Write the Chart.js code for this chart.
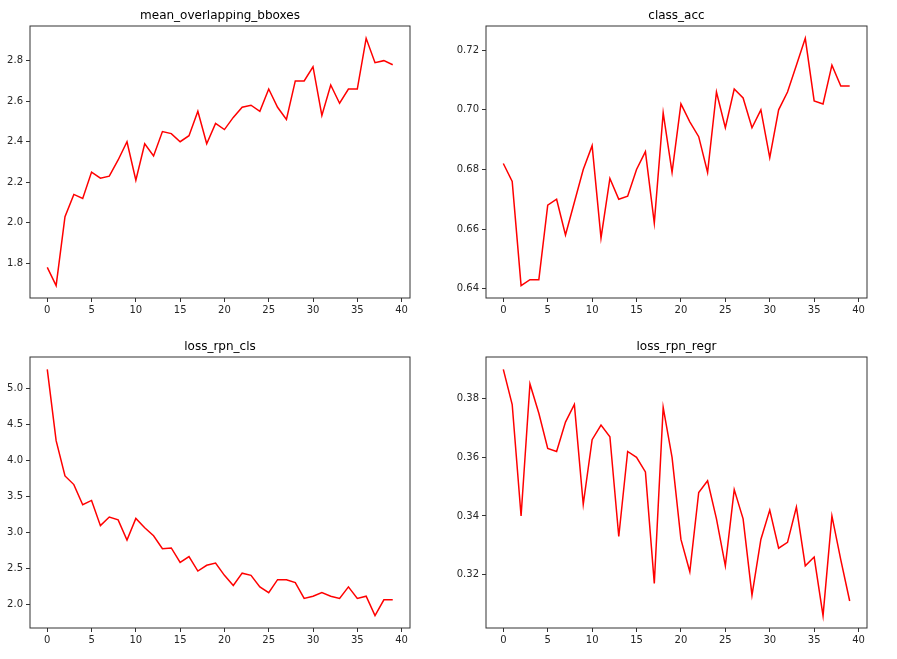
<!DOCTYPE html>
<html>
<head>
<meta charset="utf-8">
<script src="https://cdn.jsdelivr.net/npm/chart.js@4/dist/chart.umd.min.js"></script>
<style>
  body { margin: 0; background: #fff; }
  #fig { position: relative; width: 897px; height: 659px; background: #fff; }
  .panel { position: absolute; }
</style>
</head>
<body>
<div id="fig">
  <div class="panel" style="left:0px;top:10px;width:420px;height:312px"><canvas id="c1"></canvas></div>
  <div class="panel" style="left:446px;top:10px;width:431px;height:312px"><canvas id="c2"></canvas></div>
  <div class="panel" style="left:0px;top:341px;width:420px;height:311px"><canvas id="c3"></canvas></div>
  <div class="panel" style="left:446px;top:341px;width:431px;height:311px"><canvas id="c4"></canvas></div>
</div>
<script>
// epochs along the x axis
const epochs = [0,1,2,3,4,5,6,7,8,9,10,11,12,13,14,15,16,17,18,19,
                20,21,22,23,24,25,26,27,28,29,30,31,32,33,34,35,36,37,38,39];
const xTicks = [0, 5, 10, 15, 20, 25, 30, 35, 40];

// values
const meanOverlappingBboxes = [1.78,1.69,2.03,2.14,2.12,2.25,2.22,2.23,2.31,2.40,
                               2.21,2.39,2.33,2.45,2.44,2.40,2.43,2.55,2.39,2.49,
                               2.46,2.52,2.57,2.58,2.55,2.66,2.57,2.51,2.70,2.70,
                               2.77,2.53,2.68,2.59,2.66,2.66,2.91,2.79,2.80,2.78];
const classAcc = [0.682,0.676,0.641,0.643,0.643,0.668,0.670,0.658,0.669,0.680,
                  0.688,0.657,0.677,0.670,0.671,0.680,0.686,0.662,0.699,0.679,
                  0.702,0.696,0.691,0.679,0.706,0.694,0.707,0.704,0.694,0.700,
                  0.684,0.700,0.706,0.715,0.724,0.703,0.702,0.715,0.708,0.708];
const lossRpnCls = [5.27,4.28,3.79,3.67,3.39,3.45,3.10,3.22,3.18,2.90,
                    3.20,3.07,2.96,2.78,2.79,2.59,2.67,2.47,2.55,2.58,
                    2.41,2.27,2.44,2.41,2.25,2.17,2.35,2.35,2.31,2.09,
                    2.12,2.17,2.12,2.09,2.25,2.09,2.12,1.85,2.07,2.07];
const lossRpnRegr = [0.390,0.378,0.340,0.385,0.375,0.363,0.362,0.372,0.378,0.344,
                     0.366,0.371,0.367,0.333,0.362,0.360,0.355,0.317,0.377,0.360,
                     0.332,0.321,0.348,0.352,0.339,0.323,0.349,0.339,0.313,0.332,
                     0.342,0.329,0.331,0.343,0.323,0.326,0.306,0.340,0.325,0.311];

// y tick labels
const ticksBboxes = [1.8, 2.0, 2.2, 2.4, 2.6, 2.8];
const ticksAcc = [0.64, 0.66, 0.68, 0.70, 0.72];
const ticksCls = [2.0, 2.5, 3.0, 3.5, 4.0, 4.5, 5.0];
const ticksRegr = [0.32, 0.34, 0.36, 0.38];

Chart.defaults.font.family = "'DejaVu Sans', sans-serif";
Chart.defaults.animation = false;

// box around the plot area, like matplotlib spines
const framePlugin = {
  id: 'frame',
  afterDraw(chart) {
    const a = chart.chartArea;
    const ctx = chart.ctx;
    ctx.save();
    ctx.strokeStyle = '#333';
    ctx.lineWidth = 1;
    ctx.strokeRect(a.left, a.top, a.right - a.left, a.bottom - a.top);
    ctx.restore();
  }
};

function margins(lo, hi) {
  let pad = (hi - lo) * 0.05;
  return [lo - pad, hi + pad];
}

function makeChart(id, title, values, yTicks, decimals, yWidth) {
  let yr = margins(Math.min(...values), Math.max(...values));
  let xr = margins(epochs[0], epochs[epochs.length - 1]);
  new Chart(document.getElementById(id), {
    type: 'line',
    data: {
      datasets: [{
        data: epochs.map((e, i) => ({x: e, y: values[i]})),
        borderColor: '#ff0000',
        borderWidth: 1.5,
        pointRadius: 0,
        tension: 0,
        fill: false
      }]
    },
    options: {
      responsive: true,
      maintainAspectRatio: false,
      layout: { padding: { left: 0, right: 10, top: 0, bottom: 0 } },
      plugins: {
        legend: { display: false },
        tooltip: { enabled: false },
        title: {
          display: true,
          text: title,
          fullSize: false,
          color: '#000',
          font: { size: 12, weight: 'normal', lineHeight: 1 },
          padding: { top: 0, bottom: 4 }
        }
      },
      scales: {
        x: {
          type: 'linear',
          min: xr[0],
          max: xr[1],
          afterBuildTicks: s => { s.ticks = xTicks.map(v => ({value: v})); },
          afterFit: s => { s.height = 24; },
          grid: { drawOnChartArea: false, drawTicks: true, tickLength: 4, color: '#333' },
          border: { display: false },
          ticks: { color: '#262626', font: { size: 10 }, padding: 2, maxRotation: 0,
                   callback: v => String(v) }
        },
        y: {
          type: 'linear',
          min: yr[0],
          max: yr[1],
          afterBuildTicks: s => { s.ticks = yTicks.map(v => ({value: v})); },
          afterFit: s => { s.width = yWidth; },
          grid: { drawOnChartArea: false, drawTicks: true, tickLength: 4, color: '#333' },
          border: { display: false },
          ticks: { color: '#262626', font: { size: 10 }, padding: 3,
                   callback: v => Number(v).toFixed(decimals) }
        }
      }
    },
    plugins: [framePlugin]
  });
}

makeChart('c1', 'mean_overlapping_bboxes', meanOverlappingBboxes, ticksBboxes, 1, 30);
makeChart('c2', 'class_acc', classAcc, ticksAcc, 2, 40);
makeChart('c3', 'loss_rpn_cls', lossRpnCls, ticksCls, 1, 30);
makeChart('c4', 'loss_rpn_regr', lossRpnRegr, ticksRegr, 2, 40);
</script>
</body>
</html>
